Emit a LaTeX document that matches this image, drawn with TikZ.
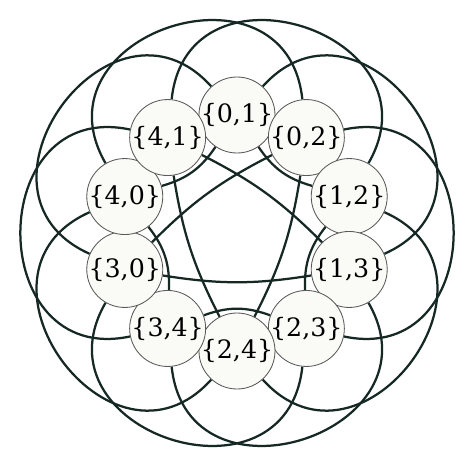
\documentclass[tikz,border=0pt]{standalone}
\usepackage{fontspec}
\newfontfamily\vertfont{DejaVu Serif}
\usetikzlibrary{backgrounds}
\definecolor{edgecol}{RGB}{22,40,36}
\definecolor{vertfill}{RGB}{250,250,246}
\tikzset{
  vert/.style={circle, draw=black!65, line width=0.6pt, fill=vertfill,
    minimum size=1.5cm, inner sep=0pt, font=\vertfont\fontsize{18}{20}\selectfont},
  edge/.style={draw=edgecol, line width=1.6pt},
}
\begin{document}
\begin{tikzpicture}
        \path[use as bounding box] (-5.925,-5.825) rectangle (5.925,5.825);

        \node[vert] (n01) at (90:2.95) {\{0,1\}};
        \node[vert] (n02) at (54:2.95) {\{0,2\}};
        \node[vert] (n12) at (18:2.95) {\{1,2\}};
        \node[vert] (n13) at (-18:2.95) {\{1,3\}};
        \node[vert] (n23) at (-54:2.95) {\{2,3\}};
        \node[vert] (n24) at (-90:2.95) {\{2,4\}};
        \node[vert] (n34) at (-126:2.95) {\{3,4\}};
        \node[vert] (n30) at (-162:2.95) {\{3,0\}};
        \node[vert] (n40) at (162:2.95) {\{4,0\}};
        \node[vert] (n41) at (126:2.95) {\{4,1\}};

        \begin{scope}[on background layer]
        \fill[white] (-5.925,-5.825) rectangle (5.925,5.825);
        % ring
        \draw[edge] (n01) -- (n02) -- (n12) -- (n13) -- (n23) -- (n24)
            -- (n34) -- (n30) -- (n40) -- (n41) -- (n01);
        % pentagram
        \foreach \a/\b in {n30/n13, n41/n24, n02/n30, n13/n41, n24/n02}
            \draw[edge] (\a) to[bend right=9] (\b);
        \foreach \a/\b in {n34/n23, n40/n34, n01/n40, n12/n01, n23/n12}
            \draw[edge] (\a) to[bend left=20] (\b);
        % outer loops
        \foreach \a/\b/\p in {n01/n13/36, n02/n23/0, n12/n24/-36, n13/n34/-72,
                n23/n30/-108, n24/n40/-144, n34/n41/-180, n30/n01/-216,
                n40/n02/-252, n41/n12/-288}
            \draw[edge] (\a) .. controls +(\p+12:4.7) and +(\p-12:4.7) .. (\b);
        \end{scope}

\end{tikzpicture}
\end{document}
